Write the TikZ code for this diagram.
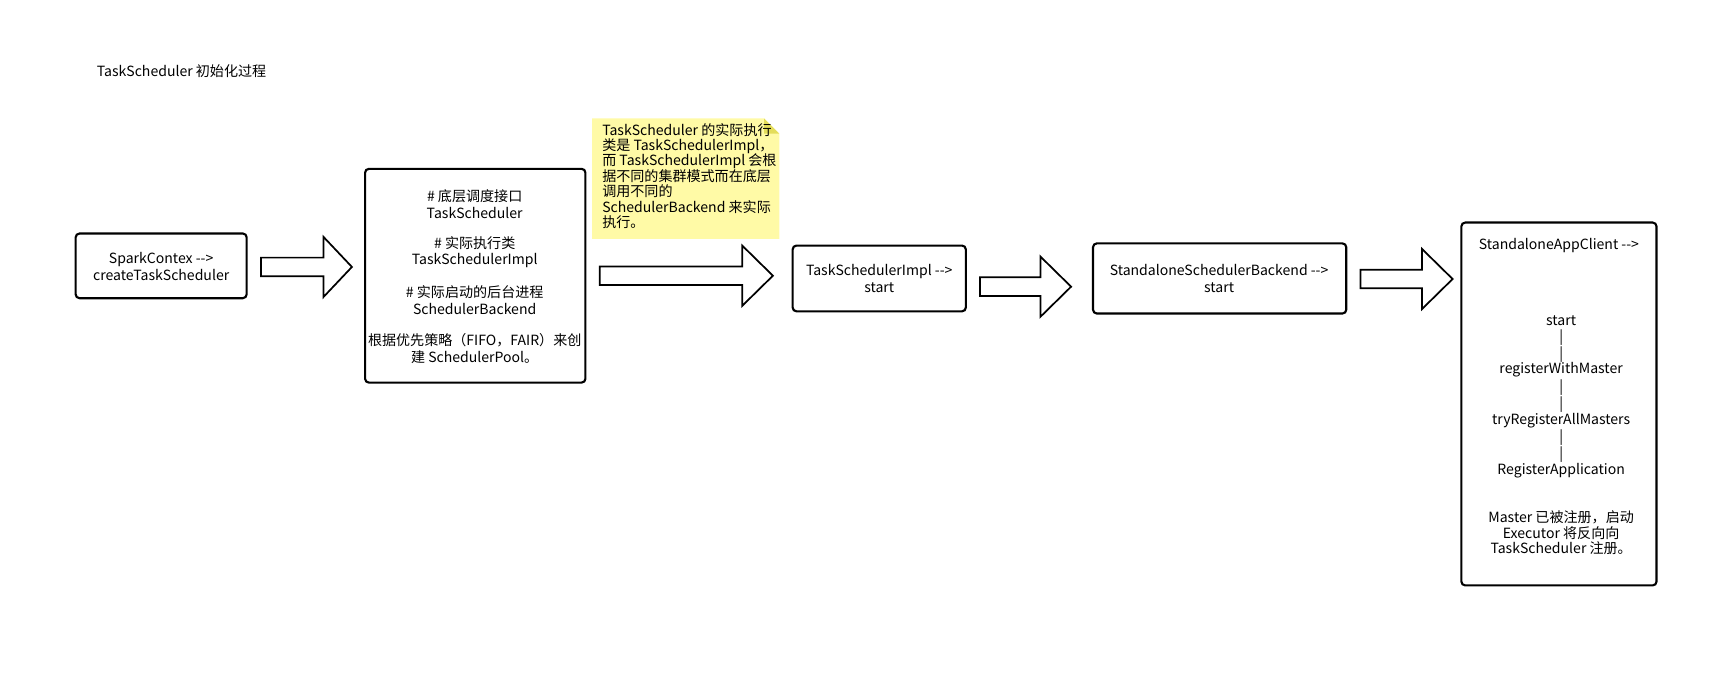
\documentclass[tikz,border=0pt]{standalone}
\usepackage{fontspec}
\setmainfont{Noto Sans CJK SC}
\begin{document}
\begin{tikzpicture}[x=0.02cm,y=-0.02cm,
  box/.style={draw,line width=1.1pt,rounded corners=2pt},
  t/.style={font=\fontsize{7.3pt}{8.6pt}\selectfont,inner sep=0pt,align=center},
  barrow/.style={draw,line width=0.9pt,fill=white}]
\useasboundingbox (0,0) rectangle (1568,621);
\node[t,anchor=west] (title) at (88,65) {TaskScheduler 初始化过程};
% boxes
\draw[box] (69,213) rectangle (225,272);
\node[t] (b1) at (147,243) {SparkContex {-}{-}\textgreater\\createTaskScheduler};
\draw[box] (333,154) rectangle (534,349);
\node[t] (b2a) at (433,186) {\# 底层调度接口\\TaskScheduler};
\node[t] (b2b) at (433,230) {\# 实际执行类\\TaskSchedulerImpl};
\node[t] (b2c) at (433,274) {\# 实际启动的后台进程\\SchedulerBackend};
\node[t] (b2d) at (433,318) {根据优先策略（FIFO，FAIR）来创\\建 SchedulerPool。};
% note
\fill[yellow!35] (540,108) -- (697,108) -- (711,122) -- (711,218) -- (540,218) -- cycle;
\fill[yellow!60!olive!60] (697,108) -- (711,122) -- (697,122) -- cycle;
\node[t,anchor=north west,align=left,font=\fontsize{7.3pt}{8.0pt}\selectfont] (note) at (549,112)
 {TaskScheduler 的实际执行\\类是 TaskSchedulerImpl，\\而 TaskSchedulerImpl 会根\\据不同的集群模式而在底层\\调用不同的\\SchedulerBackend 来实际\\执行。};
\draw[box] (723,224) rectangle (881,284);
\node[t] (b3) at (802,254) {TaskSchedulerImpl {-}{-}\textgreater\\start};
\draw[box] (997,222) rectangle (1228,286);
\node[t] (b4) at (1112,254) {StandaloneSchedulerBackend {-}{-}\textgreater\\start};
\draw[box] (1333,203) rectangle (1511,534);
\node[t] (b5a) at (1422,224) {StandaloneAppClient {-}{-}\textgreater};
\node[t,font=\fontsize{7.3pt}{7.9pt}\selectfont] (b5b) at (1424,362) {start\\|\\|\\registerWithMaster\\|\\|\\tryRegisterAllMasters\\|\\|\\RegisterApplication};
\node[t,font=\fontsize{7.3pt}{8.1pt}\selectfont] (b5c) at (1424,486) {Master 已被注册，启动\\Executor 将反向向\\TaskScheduler 注册。};
% block arrows
\draw[barrow] (238,235) -- (295,235) -- (295,216) -- (321,243.5) -- (295,271) -- (295,252) -- (238,252) -- cycle;
\draw[barrow] (547,243) -- (677,243) -- (677,224) -- (705,251.5) -- (677,279) -- (677,260) -- (547,260) -- cycle;
\draw[barrow] (894,253) -- (949,253) -- (949,234) -- (977,261.5) -- (949,289) -- (949,270) -- (894,270) -- cycle;
\draw[barrow] (1241,246) -- (1297,246) -- (1297,227) -- (1325,254.5) -- (1297,282) -- (1297,263) -- (1241,263) -- cycle;
\end{tikzpicture}
\end{document}
